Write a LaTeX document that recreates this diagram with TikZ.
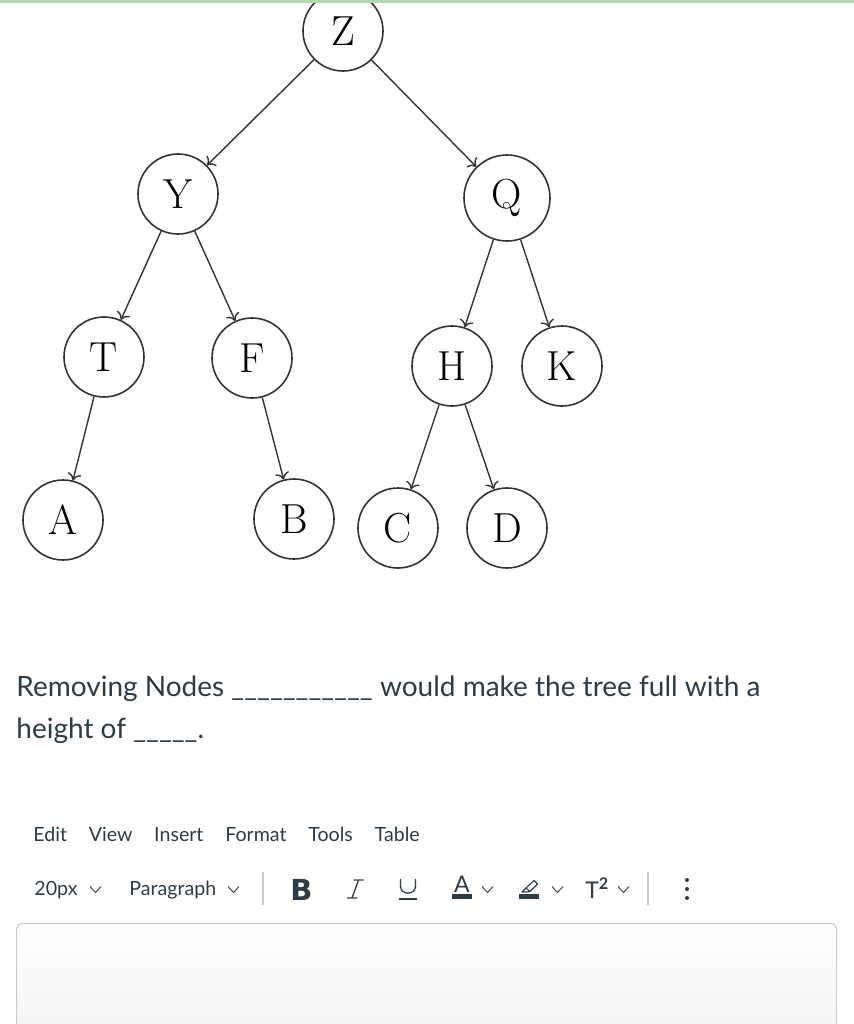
\documentclass[tikz,border=0pt]{standalone}
\usepackage{fontspec}
\newfontfamily\latofont{Lato}
\newfontfamily\iconfont{DejaVu Sans}
\usetikzlibrary{positioning, arrows.meta}
\definecolor{Ink}{HTML}{333333}
\definecolor{Canvas}{HTML}{2D3B45}
\definecolor{Rule}{HTML}{C7CDD1}
\definecolor{TopLine}{HTML}{B9D2B4}
\definecolor{BoxFade}{HTML}{F3F3F3}
\tikzset{
    treenode/.style={circle, draw=Ink, line width=0.8pt, minimum size=40pt, inner sep=0pt, text=black, font=\fontsize{21}{25}\selectfont},
    edgearrow/.style={-{To[length=3.5pt, width=7pt]}, line width=0.7pt, color=Ink},
    bodytext/.style={inner sep=0pt, anchor=base west, text=Canvas, font=\latofont\fontsize{14}{21}\selectfont},
    menuitem/.style={inner sep=0pt, text=Canvas, text height=7.5pt, text depth=0pt, font=\latofont\fontsize{9.8}{12}\selectfont},
    chevron/.style={draw=Canvas, line width=0.45pt},
    toolicon/.style={draw=Canvas, line width=0.65pt},
    divider/.style={draw=Rule, line width=0.6pt},
    answerbox/.style={rectangle, rounded corners=3pt, draw=Rule, line width=0.6pt, top color=white, bottom color=BoxFade, inner sep=0pt},
}
\begin{document}
\begin{tikzpicture}[x=0.5pt, y=-0.5pt]
    \useasboundingbox (0,0) rectangle (854,1024);

    \node[treenode] (Z) at (343,31) {Z};
    \node[treenode] (Y) at (178,194) {Y};
    \node[treenode, minimum size=43pt] (Q) at (507,198) {Q};
    \node[treenode] (T) at (104,357) {T};
    \node[treenode] (F) at (252,358) {F};
    \node[treenode] (H) at (452,366) {H};
    \node[treenode] (K) at (562,366) {K};
    \node[treenode] (A) at (63,520) {A};
    \node[treenode] (B) at (294,519) {B};
    \node[treenode] (C) at (398,528) {C};
    \node[treenode] (D) at (507,528) {D};

    \draw[edgearrow] (Z) -- (Y);
    \draw[edgearrow] (Z) -- (Q);
    \draw[edgearrow] (Y) -- (T);
    \draw[edgearrow] (Y) -- (F);
    \draw[edgearrow] (T) -- (A);
    \draw[edgearrow] (F) -- (B);
    \draw[edgearrow] (Q) -- (H);
    \draw[edgearrow] (Q) -- (K);
    \draw[edgearrow] (H) -- (C);
    \draw[edgearrow] (H) -- (D);

    \node[bodytext] (question) at (16,696) {Removing Nodes \_\_\_\_\_\_\_\_\_\_\_ would make the tree full with a};
    \node[bodytext] (questionend) at (16,738) {height of \_\_\_\_\_.};

    \node[menuitem, anchor=base west] (edit) at (33,841) {Edit};
    \node[menuitem, right=10.5pt of edit] (view) {View};
    \node[menuitem, right=10.5pt of view] (insert) {Insert};
    \node[menuitem, right=10.5pt of insert] (format) {Format};
    \node[menuitem, right=10.5pt of format] (tools) {Tools};
    \node[menuitem, right=10.5pt of tools] (table) {Table};

    \node[menuitem, anchor=base west] (fontsize) at (34,895) {20px};
    \node[menuitem, anchor=base west] (blockstyle) at (129,895) {Paragraph};
    \coordinate (sizechev) at (90,886.5);
    \coordinate (blockchev) at (228,886.5);
    \draw[chevron] (sizechev) -- ++(5.5,6) -- ++(5.5,-6);
    \draw[chevron] (blockchev) -- ++(5.5,6) -- ++(5.5,-6);
    \draw[divider] (263,872) -- (263,905);

    \node[inner sep=0pt, text=Canvas, font=\iconfont\bfseries\fontsize{14.5}{15}\selectfont] (bold) at (301.5,889.5) {B};
    \draw[toolicon] (353.5,880) -- (363.5,880) (347,898) -- (357,898) (358.5,880) -- (352,898);
    \draw[toolicon] (400.5,879) -- (400.5,886) .. controls (400.5,895.5) and (415.5,895.5) .. (415.5,886) -- (415.5,879);
    \draw[toolicon] (399,899) -- (417,899);

    \node[inner sep=0pt, anchor=base, text=Canvas, font=\latofont\fontsize{11.5}{12}\selectfont] (textcolor) at (462,892.5) {A};
    \fill[Canvas] (452,894) rectangle (472,898.5);
    \coordinate (colorchev) at (482,886.5);
    \draw[chevron] (colorchev) -- ++(5.5,6) -- ++(5.5,-6);

    \draw[toolicon, line width=0.55pt, line join=round] (526,888) -- (534,880.5) -- (537.5,884) -- (530,891.5) -- cycle;
    \draw[toolicon, line width=0.55pt, line join=round] (526,888) -- (522,892) -- (526.5,892) -- (530,891.5);
    \fill[Canvas] (519,894) rectangle (539,898.5);
    \coordinate (markchev) at (552,886.5);
    \draw[chevron] (markchev) -- ++(5.5,6) -- ++(5.5,-6);

    \node[inner sep=0pt, anchor=base west, text=Canvas, font=\latofont\fontsize{11.5}{12}\selectfont] (superscript) at (585,898) {T\textsuperscript{\bfseries 2}};
    \coordinate (supchev) at (618,886.5);
    \draw[chevron] (supchev) -- ++(5.5,6) -- ++(5.5,-6);
    \draw[divider] (648,872) -- (648,905);

    \fill[Canvas] (687,880) circle (2) (687,889) circle (2) (687,898) circle (2);

    \node[answerbox, anchor=north west, minimum width=410pt, minimum height=60pt] (answer) at (16,923) {};

    \fill[TopLine] (0,0) rectangle (854,2.5);
\end{tikzpicture}
\end{document}
